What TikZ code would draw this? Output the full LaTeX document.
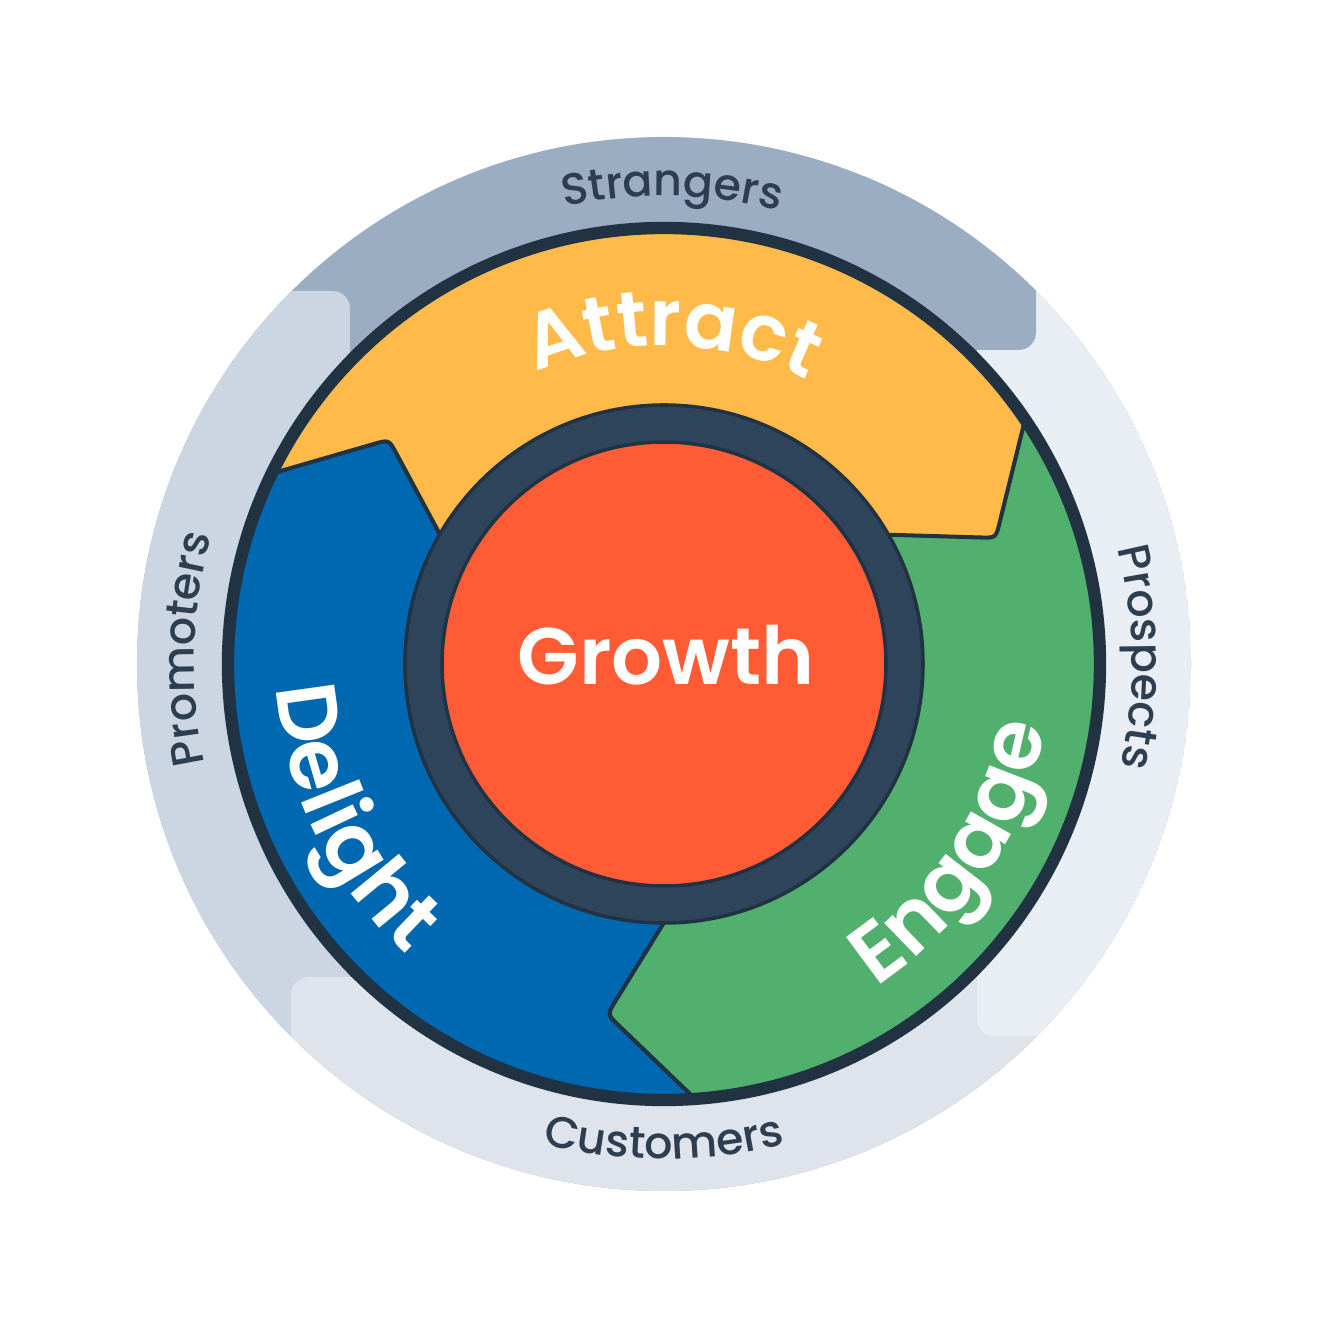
\documentclass[tikz,border=0pt]{standalone}
\usepackage{fontspec}
\setmainfont{Poppins}
\newfontfamily\fouter{Poppins Medium}
\newfontfamily\finner{Poppins SemiBold}
\usetikzlibrary{calc,decorations.text}
\definecolor{strangers}{HTML}{9AADC3}
\definecolor{promoters}{HTML}{CBD6E2}
\definecolor{customers}{HTML}{DFE3EC}
\definecolor{prospects}{HTML}{E9EEF5}
\definecolor{obsidian}{HTML}{213343}
\definecolor{slate}{HTML}{2F455C}
\definecolor{growthc}{HTML}{FF5C35}
\definecolor{attractc}{HTML}{FFBA4A}
\definecolor{engagec}{HTML}{51B06D}
\definecolor{delightc}{HTML}{0068B1}
\definecolor{labeltext}{HTML}{2D3E50}
\begin{document}
\begin{tikzpicture}[x=0.01cm,y=0.01cm,
 bnd/.style={draw=obsidian, line width=1.15pt},
 outerlabel/.style={decorate, decoration={text along path, text align=center, text color=labeltext, text={|\fouter\fontsize{12.6pt}{15pt}\selectfont|#1}}},
 innerlabel/.style 2 args={decorate, decoration={text along path, text align=center, text color=white, text={|\finner\fontsize{#2}{27pt}\selectfont|#1}}}
]
\useasboundingbox (-664,-664) rectangle (664,664);
% outer ring
\begin{scope}
\clip (0,0) circle (527);
\fill[strangers] (0,0) circle (527);
\fill[promoters, rounded corners=5pt] (-700,-700) rectangle (-314,373);
\fill[customers, rounded corners=5pt] (-373,-700) rectangle (700,-313);
\fill[prospects, rounded corners=5pt] (313,-372) rectangle (700,700);
\fill[strangers, rounded corners=5pt] (200,314) rectangle (372,700);
\end{scope}
% boundary points
\foreach \k/\t in {0/20.8,1/140.8,2/260.8}{
  \coordinate (H\k) at ({\t+9}:260);
  \coordinate (C\k) at (\t:355);
  \coordinate (O\k) at ({\t+13.3}:436);
}
\foreach \k in {0,1,2}{
  \coordinate (P\k) at ($(C\k)!4.5pt!(H\k)$);
  \coordinate (Q\k) at ($(C\k)!4.5pt!(O\k)$);
}
% segments
\fill[attractc] (0,0) -- (H1) -- (P1) .. controls (C1) .. (Q1) -- (O1) arc[start angle=154.1, end angle=34.1, radius=436] -- (Q0) .. controls (C0) .. (P0) -- (H0) -- cycle;
\fill[engagec] (0,0) -- (H0) -- (P0) .. controls (C0) .. (Q0) -- (O0) arc[start angle=34.1, end angle=-85.9, radius=436] -- (Q2) .. controls (C2) .. (P2) -- (H2) -- cycle;
\fill[delightc] (0,0) -- (H2) -- (P2) .. controls (C2) .. (Q2) -- (O2) arc[start angle=274.1, end angle=154.1, radius=436] -- (Q1) .. controls (C1) .. (P1) -- (H1) -- cycle;
\foreach \k in {0,1,2}{
  \draw[bnd] (H\k) -- (P\k) .. controls (C\k) .. (Q\k) -- (O\k);
}
\draw[obsidian, line width=3.5pt] (0,0) circle (436);
% hub
\fill[slate] (0,0) circle (260);
\draw[obsidian, line width=1pt] (0,0) circle (259);
\fill[growthc] (0,0) circle (222);
\draw[obsidian, line width=1pt] (0,0) circle (222);
% labels
\path[outerlabel=Strangers] (129:468) arc[start angle=129, end angle=49, radius=468];
\path[outerlabel=Prospects] (40.8:468) arc[start angle=40.8, end angle=-39.2, radius=468];
\path[outerlabel=Customers] (230:495) arc[start angle=230, end angle=310, radius=495];
\path[outerlabel=Promoters] (218.2:470) arc[start angle=218.2, end angle=138.2, radius=470];
\path[innerlabel={Attract}{22.4pt}] (128.5:318) arc[start angle=128.5, end angle=48.5, radius=318];
\path[innerlabel={Delight}{24pt}] (166:388) arc[start angle=166, end angle=246, radius=388];
\path[innerlabel={Engage}{23.6pt}] (287:386) arc[start angle=287, end angle=367, radius=386];
\node[font=\finner\fontsize{22.8pt}{27pt}\selectfont, text=white, anchor=base, inner sep=0pt] (growth) at (2,-21) {Growth};
\end{tikzpicture}
\end{document}
